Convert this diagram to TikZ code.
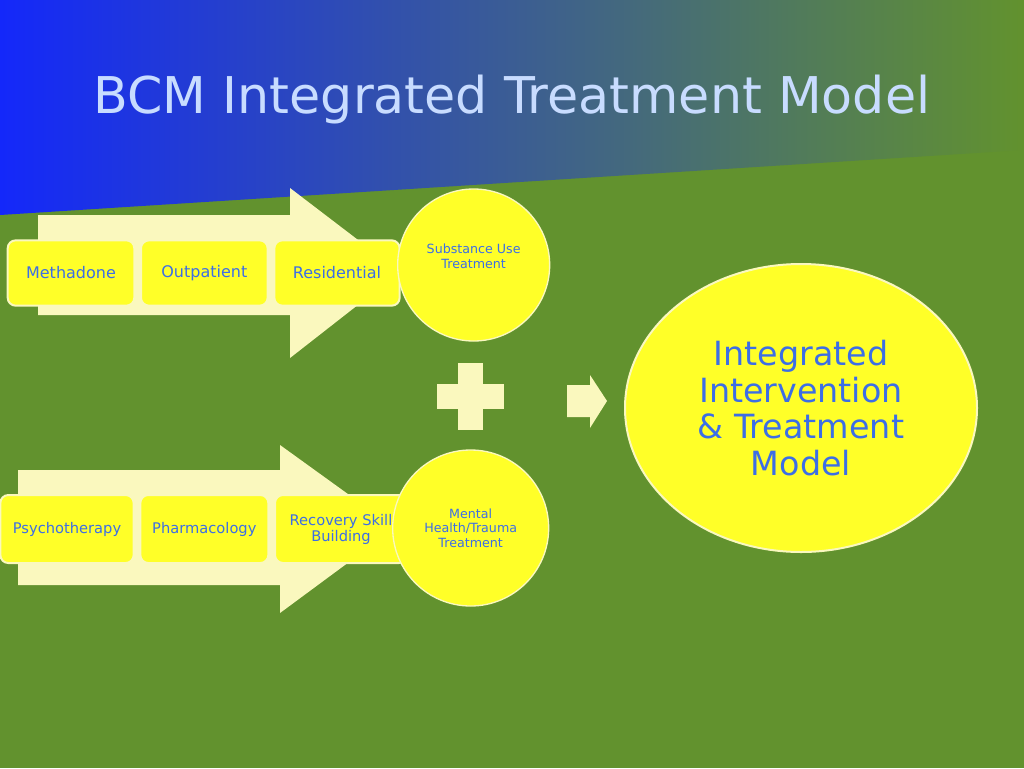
\documentclass[tikz,border=0pt]{standalone}
\usepackage{fontspec}
\setmainfont{DejaVu Sans}
\usetikzlibrary{positioning,shapes.geometric}
\definecolor{bggreen}{RGB}{98,146,46}
\definecolor{topblue}{RGB}{20,40,250}
\definecolor{cream}{RGB}{250,248,190}
\definecolor{boxyellow}{RGB}{255,255,40}
\definecolor{txtblue}{RGB}{60,110,230}
\definecolor{titleblue}{RGB}{200,220,255}
\tikzset{
  stepbox/.style={draw=cream,line width=1.5pt,fill=boxyellow,rounded corners=6pt,minimum height=49pt,text=txtblue,font=\fontsize{12}{13}\selectfont,align=center,outer sep=0pt},
  topic/.style={circle,draw=cream,line width=1pt,fill=boxyellow,minimum size=114pt,text=txtblue,font=\fontsize{9.5}{11}\selectfont,align=center},
}
\begin{document}
\begin{tikzpicture}[x=0.75pt,y=-0.75pt]
	\useasboundingbox (0,0) rectangle (1024,768);
	\fill [bggreen] (0,0) rectangle (1024,768);
	\shade [left color=topblue,right color=bggreen] (0,0) -- (1024,0) -- (1024,150) -- (0,215) -- cycle;
	\node [font=\fontsize{38}{44}\selectfont,text=titleblue] (title) at (512,100) {BCM Integrated Treatment Model};

	% upper row
	\fill [cream] (38,215) -- (290,215) -- (290,188) -- (400,272) -- (290,358) -- (290,315) -- (38,315) -- cycle;
	\node [stepbox,minimum width=95pt] at (71,273) (methadone) {Methadone};
	\node [stepbox,minimum width=95pt,right=5pt of methadone] (outpatient) {Outpatient};
	\node [stepbox,minimum width=94pt,right=5pt of outpatient] (residential) {Residential};
	\node [topic,anchor=west] at (397,265) (substance) {\raisebox{20pt}{\parbox{80pt}{\centering Substance Use\\Treatment}}};

	% lower row
	\fill [cream] (18,470) -- (280,470) -- (280,445) -- (395,528) -- (280,613) -- (280,585) -- (18,585) -- cycle;
	\node [stepbox,minimum width=100pt,minimum height=51pt,font=\fontsize{11}{12}\selectfont] at (67,529) (psycho) {Psychotherapy};
	\node [stepbox,minimum width=96pt,minimum height=51pt,font=\fontsize{11}{12}\selectfont,right=5pt of psycho] (pharma) {Pharmacology};
	\node [stepbox,minimum width=99pt,minimum height=51pt,font=\fontsize{11}{12}\selectfont,right=5pt of pharma] (recovery) {Recovery Skill\\Building};
	\node [topic,minimum size=117pt,anchor=west] at (392,528) (mental) {Mental\\Health/Trauma\\Treatment};

	% plus and arrow
	\fill [cream] (458,363) rectangle (483,430);
	\fill [cream] (437,384) rectangle (504,409);
	\fill [cream] (567,385) -- (590,385) -- (590,375) -- (607,401) -- (590,428) -- (590,417) -- (567,417) -- cycle;

	\node [ellipse,draw=cream,line width=1.5pt,fill=boxyellow,minimum width=264pt,minimum height=216pt,text=txtblue,font=\fontsize{25}{27.5}\selectfont,align=center] at (801,408) (integrated) {Integrated\\Intervention\\\& Treatment\\Model};
\end{tikzpicture}
\end{document}
